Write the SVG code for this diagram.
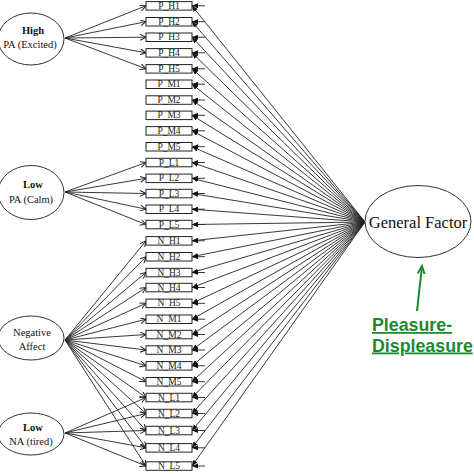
<svg xmlns="http://www.w3.org/2000/svg" width="474" height="474" viewBox="0 0 474 474">
<style>
.bx{fill:#fff;stroke:#222;stroke-width:1}
.bt{font-family:"Liberation Serif","Times New Roman",serif;font-size:9.5px;fill:#222;text-anchor:middle}
.el{fill:#fff;stroke:#333;stroke-width:1}
.et{font-family:"Liberation Serif","Times New Roman",serif;font-size:10.5px;fill:#111;text-anchor:middle}
.b{font-weight:bold}
.ln{stroke:#222;stroke-width:0.9;fill:none}
.la{marker-end:url(#open)}
.ra{marker-end:url(#fill)}
.gt{font-family:"Liberation Sans",Arial,sans-serif;font-size:17.8px;font-weight:bold;fill:#1b8a2d;text-decoration:underline}
</style>
<defs>
<marker id="open" markerUnits="userSpaceOnUse" markerWidth="8" markerHeight="8" refX="6" refY="3" orient="auto" viewBox="0 0 8 8"><path d="M0,0 L6,3 L0,6" fill="none" stroke="#222" stroke-width="1"/></marker>
<marker id="fill" markerUnits="userSpaceOnUse" markerWidth="7" markerHeight="6" refX="6" refY="2.5" orient="auto" viewBox="0 0 7 6"><path d="M0,0 L6,2.5 L0,5 z" fill="#111"/></marker>
<marker id="gm" markerUnits="userSpaceOnUse" markerWidth="10" markerHeight="10" refX="8" refY="4" orient="auto" viewBox="0 0 10 10"><path d="M0,0.5 L8,4 L0,7.5" fill="none" stroke="#1b8a2d" stroke-width="2"/></marker>
</defs>
<rect width="474" height="474" fill="#fff"/>
<g id="connectors">
<path class="ln la" d="M65,38 L146,5.8"/>
<path class="ln la" d="M65,38 L146,21.7"/>
<path class="ln la" d="M65,38 L146,37.2"/>
<path class="ln la" d="M65,38 L146,52.8"/>
<path class="ln la" d="M65,38 L146,68.8"/>
<path class="ln la" d="M65,192 L146,162.5"/>
<path class="ln la" d="M65,192 L146,178.3"/>
<path class="ln la" d="M65,192 L146,193.5"/>
<path class="ln la" d="M65,192 L146,209.2"/>
<path class="ln la" d="M65,192 L146,224.5"/>
<path class="ln la" d="M65,340 L146,240.8"/>
<path class="ln la" d="M65,340 L146,256.7"/>
<path class="ln la" d="M65,340 L146,272.5"/>
<path class="ln la" d="M65,340 L146,287.5"/>
<path class="ln la" d="M65,340 L146,303.3"/>
<path class="ln la" d="M65,340 L146,319.2"/>
<path class="ln la" d="M65,340 L146,334.5"/>
<path class="ln la" d="M65,340 L146,350"/>
<path class="ln la" d="M65,340 L146,365.8"/>
<path class="ln la" d="M65,340 L146,381.7"/>
<path class="ln la" d="M65,340 L146,397.5"/>
<path class="ln la" d="M65,340 L146,413.5"/>
<path class="ln la" d="M65,340 L146,430.5"/>
<path class="ln la" d="M65,340 L146,447.8"/>
<path class="ln la" d="M65,340 L146,466"/>
<path class="ln la" d="M65,433 L146,397.5"/>
<path class="ln la" d="M65,433 L146,413.5"/>
<path class="ln la" d="M65,433 L146,430.5"/>
<path class="ln la" d="M65,433 L146,447.8"/>
<path class="ln la" d="M65,433 L146,466"/>
<path class="ln ra" d="M365,222 L192,5.8"/>
<path class="ln ra" d="M365,222 L192,21.7"/>
<path class="ln ra" d="M365,222 L192,37.2"/>
<path class="ln ra" d="M365,222 L192,52.8"/>
<path class="ln ra" d="M365,222 L192,68.8"/>
<path class="ln ra" d="M365,222 L192,84.2"/>
<path class="ln ra" d="M365,222 L192,100"/>
<path class="ln ra" d="M365,222 L192,115.3"/>
<path class="ln ra" d="M365,222 L192,130.8"/>
<path class="ln ra" d="M365,222 L192,146.7"/>
<path class="ln ra" d="M365,222 L192,162.5"/>
<path class="ln ra" d="M365,222 L192,178.3"/>
<path class="ln ra" d="M365,222 L192,193.5"/>
<path class="ln ra" d="M365,222 L192,209.2"/>
<path class="ln ra" d="M365,222 L192,224.5"/>
<path class="ln ra" d="M365,222 L192,240.8"/>
<path class="ln ra" d="M365,222 L192,256.7"/>
<path class="ln ra" d="M365,222 L192,272.5"/>
<path class="ln ra" d="M365,222 L192,287.5"/>
<path class="ln ra" d="M365,222 L192,303.3"/>
<path class="ln ra" d="M365,222 L192,319.2"/>
<path class="ln ra" d="M365,222 L192,334.5"/>
<path class="ln ra" d="M365,222 L192,350"/>
<path class="ln ra" d="M365,222 L192,365.8"/>
<path class="ln ra" d="M365,222 L192,381.7"/>
<path class="ln ra" d="M365,222 L192,397.5"/>
<path class="ln ra" d="M365,222 L192,413.5"/>
<path class="ln ra" d="M365,222 L192,430.5"/>
<path class="ln ra" d="M365,222 L192,447.8"/>
<path class="ln ra" d="M365,222 L192,466"/>
<path class="ln ra" d="M205,5.8 L192,5.8"/>
<path class="ln ra" d="M205,21.7 L192,21.7"/>
<path class="ln ra" d="M205,37.2 L192,37.2"/>
<path class="ln ra" d="M205,52.8 L192,52.8"/>
<path class="ln ra" d="M205,68.8 L192,68.8"/>
<path class="ln ra" d="M205,84.2 L192,84.2"/>
<path class="ln ra" d="M205,100 L192,100"/>
<path class="ln ra" d="M205,115.3 L192,115.3"/>
<path class="ln ra" d="M205,130.8 L192,130.8"/>
<path class="ln ra" d="M205,146.7 L192,146.7"/>
<path class="ln ra" d="M205,162.5 L192,162.5"/>
<path class="ln ra" d="M205,178.3 L192,178.3"/>
<path class="ln ra" d="M205,193.5 L192,193.5"/>
<path class="ln ra" d="M205,209.2 L192,209.2"/>
<path class="ln ra" d="M205,224.5 L192,224.5"/>
<path class="ln ra" d="M205,240.8 L192,240.8"/>
<path class="ln ra" d="M205,256.7 L192,256.7"/>
<path class="ln ra" d="M205,272.5 L192,272.5"/>
<path class="ln ra" d="M205,287.5 L192,287.5"/>
<path class="ln ra" d="M205,303.3 L192,303.3"/>
<path class="ln ra" d="M205,319.2 L192,319.2"/>
<path class="ln ra" d="M205,334.5 L192,334.5"/>
<path class="ln ra" d="M205,350 L192,350"/>
<path class="ln ra" d="M205,365.8 L192,365.8"/>
<path class="ln ra" d="M205,381.7 L192,381.7"/>
<path class="ln ra" d="M205,397.5 L192,397.5"/>
<path class="ln ra" d="M205,413.5 L192,413.5"/>
<path class="ln ra" d="M205,430.5 L192,430.5"/>
<path class="ln ra" d="M205,447.8 L192,447.8"/>
<path class="ln ra" d="M205,466 L192,466"/>
<path d="M417,311 L422,266" stroke="#1b8a2d" stroke-width="2" fill="none" marker-end="url(#gm)"/>
</g>
<g id="high-pa"><ellipse class="el" cx="31" cy="39" rx="33" ry="26"/><text class="et b" x="33" y="34">High</text><text class="et" x="30" y="47.5">PA (Excited)</text></g>
<g id="low-pa"><ellipse class="el" cx="31" cy="192.5" rx="33" ry="27"/><text class="et b" x="33" y="188">Low</text><text class="et" x="31" y="202.5">PA (Calm)</text></g>
<g id="negative-affect"><ellipse class="el" cx="31" cy="338" rx="33" ry="22"/><text class="et" x="32" y="336">Negative</text><text class="et" x="32" y="350">Affect</text></g>
<g id="low-na"><ellipse class="el" cx="31" cy="434" rx="33" ry="21"/><text class="et b" x="33" y="431">Low</text><text class="et" x="31" y="444.5">NA (tired)</text></g>
<g id="general-factor"><ellipse class="el" cx="418" cy="221.5" rx="53" ry="36"/><text x="418" y="227.5" font-family="Liberation Serif,'Times New Roman',serif" font-size="16.5" fill="#111" text-anchor="middle">General Factor</text></g>
<g id="P_H1"><rect class="bx" x="146" y="1.6" width="46" height="8.5"/><text class="bt" x="169" y="8.9">P_H1</text></g>
<g id="P_H2"><rect class="bx" x="146" y="17.5" width="46" height="8.5"/><text class="bt" x="169" y="24.8">P_H2</text></g>
<g id="P_H3"><rect class="bx" x="146" y="33" width="46" height="8.5"/><text class="bt" x="169" y="40.3">P_H3</text></g>
<g id="P_H4"><rect class="bx" x="146" y="48.6" width="46" height="8.5"/><text class="bt" x="169" y="55.9">P_H4</text></g>
<g id="P_H5"><rect class="bx" x="146" y="64.6" width="46" height="8.5"/><text class="bt" x="169" y="71.9">P_H5</text></g>
<g id="P_M1"><rect class="bx" x="146" y="80" width="46" height="8.5"/><text class="bt" x="169" y="87.3">P_M1</text></g>
<g id="P_M2"><rect class="bx" x="146" y="95.8" width="46" height="8.5"/><text class="bt" x="169" y="103.1">P_M2</text></g>
<g id="P_M3"><rect class="bx" x="146" y="111.1" width="46" height="8.5"/><text class="bt" x="169" y="118.4">P_M3</text></g>
<g id="P_M4"><rect class="bx" x="146" y="126.6" width="46" height="8.5"/><text class="bt" x="169" y="133.9">P_M4</text></g>
<g id="P_M5"><rect class="bx" x="146" y="142.5" width="46" height="8.5"/><text class="bt" x="169" y="149.8">P_M5</text></g>
<g id="P_L1"><rect class="bx" x="146" y="158.3" width="46" height="8.5"/><text class="bt" x="169" y="165.6">P_L1</text></g>
<g id="P_L2"><rect class="bx" x="146" y="174.1" width="46" height="8.5"/><text class="bt" x="169" y="181.4">P_L2</text></g>
<g id="P_L3"><rect class="bx" x="146" y="189.3" width="46" height="8.5"/><text class="bt" x="169" y="196.6">P_L3</text></g>
<g id="P_L4"><rect class="bx" x="146" y="205" width="46" height="8.5"/><text class="bt" x="169" y="212.3">P_L4</text></g>
<g id="P_L5"><rect class="bx" x="146" y="220.3" width="46" height="8.5"/><text class="bt" x="169" y="227.6">P_L5</text></g>
<g id="N_H1"><rect class="bx" x="146" y="236.6" width="46" height="8.5"/><text class="bt" x="169" y="243.9">N_H1</text></g>
<g id="N_H2"><rect class="bx" x="146" y="252.5" width="46" height="8.5"/><text class="bt" x="169" y="259.8">N_H2</text></g>
<g id="N_H3"><rect class="bx" x="146" y="268.3" width="46" height="8.5"/><text class="bt" x="169" y="275.6">N_H3</text></g>
<g id="N_H4"><rect class="bx" x="146" y="283.3" width="46" height="8.5"/><text class="bt" x="169" y="290.6">N_H4</text></g>
<g id="N_H5"><rect class="bx" x="146" y="299.1" width="46" height="8.5"/><text class="bt" x="169" y="306.4">N_H5</text></g>
<g id="N_M1"><rect class="bx" x="146" y="315" width="46" height="8.5"/><text class="bt" x="169" y="322.3">N_M1</text></g>
<g id="N_M2"><rect class="bx" x="146" y="330.3" width="46" height="8.5"/><text class="bt" x="169" y="337.6">N_M2</text></g>
<g id="N_M3"><rect class="bx" x="146" y="345.8" width="46" height="8.5"/><text class="bt" x="169" y="353.1">N_M3</text></g>
<g id="N_M4"><rect class="bx" x="146" y="361.6" width="46" height="8.5"/><text class="bt" x="169" y="368.9">N_M4</text></g>
<g id="N_M5"><rect class="bx" x="146" y="377.5" width="46" height="8.5"/><text class="bt" x="169" y="384.8">N_M5</text></g>
<g id="N_L1"><rect class="bx" x="146" y="393.3" width="46" height="8.5"/><text class="bt" x="169" y="400.6">N_L1</text></g>
<g id="N_L2"><rect class="bx" x="146" y="409.3" width="46" height="8.5"/><text class="bt" x="169" y="416.6">N_L2</text></g>
<g id="N_L3"><rect class="bx" x="146" y="426.3" width="46" height="8.5"/><text class="bt" x="169" y="433.6">N_L3</text></g>
<g id="N_L4"><rect class="bx" x="146" y="443.6" width="46" height="8.5"/><text class="bt" x="169" y="450.9">N_L4</text></g>
<g id="N_L5"><rect class="bx" x="146" y="461.8" width="46" height="8.5"/><text class="bt" x="169" y="469.1">N_L5</text></g>
<g id="pleasure-label"><text class="gt" x="372" y="331">Pleasure-</text><text class="gt" x="372" y="351.5">Displeasure</text></g>
</svg>
